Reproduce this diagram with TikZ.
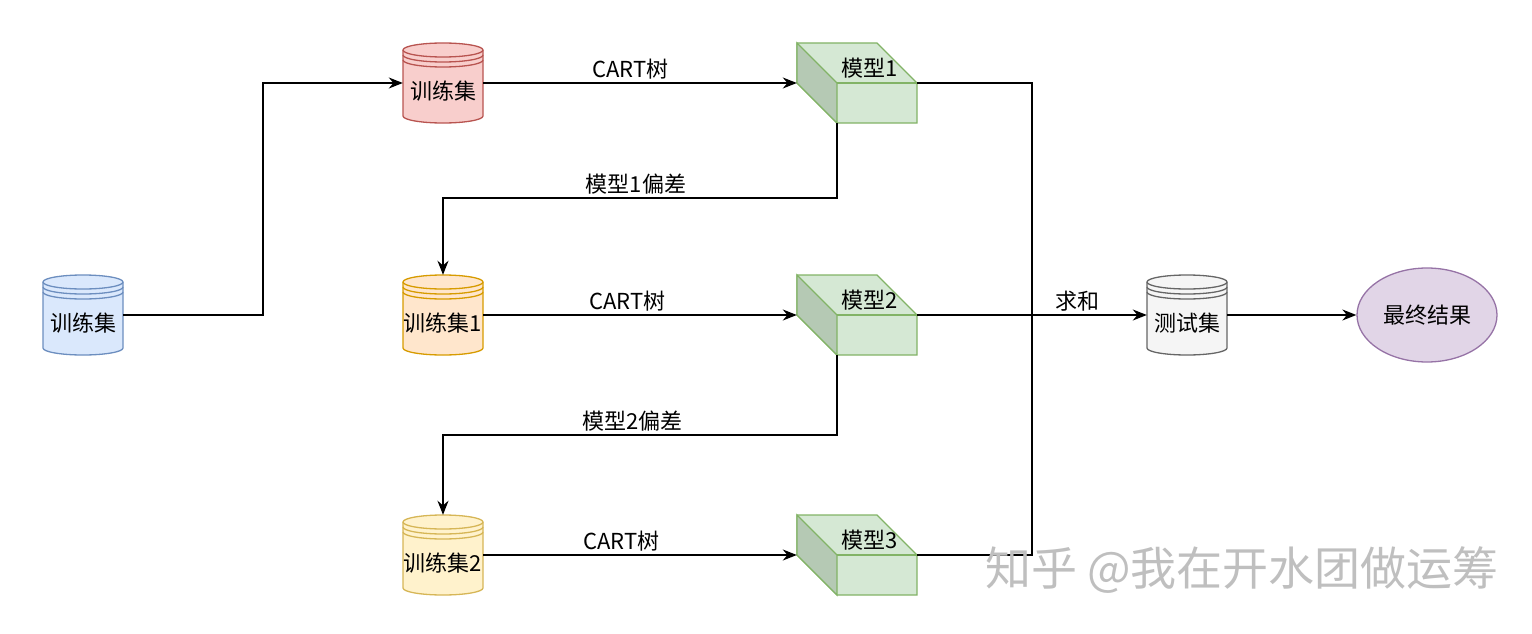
\documentclass[tikz,border=0pt]{standalone}
\usepackage{fontspec}
\setmainfont{Noto Sans CJK SC}
\usetikzlibrary{arrows.meta,shapes.geometric}
\definecolor{bF}{HTML}{DAE8FC}\definecolor{bD}{HTML}{6C8EBF}
\definecolor{rF}{HTML}{F8CECC}\definecolor{rD}{HTML}{B85450}
\definecolor{oF}{HTML}{FFE6CC}\definecolor{oD}{HTML}{D79B00}
\definecolor{yF}{HTML}{FFF2CC}\definecolor{yD}{HTML}{D6B656}
\definecolor{gF}{HTML}{D5E8D4}\definecolor{gD}{HTML}{82B366}
\definecolor{gS}{HTML}{B5C9B4}
\definecolor{wF}{HTML}{F5F5F5}\definecolor{wD}{HTML}{666666}
\definecolor{pF}{HTML}{E1D5E7}\definecolor{pD}{HTML}{9673A6}
\newcommand\mydb[6]{%
 \path[fill=#4,draw=#5,line width=1.3pt] (#2-40,#3-33) -- (#2-40,#3+33) arc[start angle=180,end angle=0,x radius=40,y radius=7] -- (#2+40,#3-33) arc[start angle=0,end angle=-180,x radius=40,y radius=7] -- cycle;
 \draw[#5,line width=1.3pt] (#2-40,#3-33) arc[start angle=180,end angle=0,x radius=40,y radius=7];
 \draw[#5,line width=1.3pt] (#2-40,#3-28) arc[start angle=180,end angle=0,x radius=40,y radius=7];
 \draw[#5,line width=1.3pt] (#2-40,#3-23) arc[start angle=180,end angle=0,x radius=40,y radius=7];
 \node[minimum width=80pt,minimum height=80pt,inner sep=0] (#1) at (#2,#3) {};
 \node[txt] at (#2,#3+8) {#6};}
\newcommand\mycube[4]{%
 \path[fill=gF,draw=gD,line width=1.3pt] (#2-60,#3-40) -- (#2+20,#3-40) -- (#2+60,#3) -- (#2+60,#3+40) -- (#2-20,#3+40) -- (#2-60,#3) -- cycle;
 \path[fill=gS,draw=gD,line width=1.3pt] (#2-60,#3-40) -- (#2-20,#3) -- (#2-20,#3+40) -- (#2-60,#3) -- cycle;
 \draw[gD,line width=1.3pt] (#2-20,#3) -- (#2+60,#3);
 \node[minimum width=120pt,minimum height=80pt,inner sep=0] (#1) at (#2,#3) {};
 \node[txt] at (#2+13,#3-15) {#4};}
\begin{document}
\begin{tikzpicture}[x=1pt,y=-1pt,
 txt/.style={font=\fontsize{22}{24}\selectfont},
 ar/.style={line width=1.6pt,-{Stealth[length=14pt,width=11pt]}},
 ln/.style={line width=1.6pt}]
\useasboundingbox (0,0) rectangle (1532,634);
\mydb{b}{83}{315}{bF}{bD}{训练集}
\mydb{r}{443}{83}{rF}{rD}{训练集}
\mydb{o}{443}{315}{oF}{oD}{训练集1}
\mydb{y}{443}{555}{yF}{yD}{训练集2}
\mydb{t}{1187}{315}{wF}{wD}{测试集}
\mycube{m1}{857}{83}{模型1}
\mycube{m2}{857}{315}{模型2}
\mycube{m3}{857}{555}{模型3}
\node[ellipse,draw=pD,fill=pF,line width=1.3pt,minimum width=140pt,minimum height=94pt,inner sep=0,txt] (e) at (1427,315) {最终结果};
\coordinate (j) at (1032,315);
\draw[ar] (b.east) -- (263,315) |- (r.west);
\draw[ar] (r.east) -- node[above,txt,pos=0.47]{CART树} (m1.west);
\draw[ar] (o.east) -- node[above,txt,pos=0.46]{CART树} (m2.west);
\draw[ar] (y.east) -- node[above,txt,pos=0.44]{CART树} (m3.west);
\draw[ar] (837,123) -- (837,198) -- node[above,txt,pos=0.51]{模型1偏差} (443,198) -- (o.north);
\draw[ar] (837,355) -- (837,435) -- node[above,txt,pos=0.52]{模型2偏差} (443,435) -- (y.north);
\draw[ln] (m1.east) -| (j);
\draw[ln] (m3.east) -| (j);
\draw[ar] (m2.east) -- (j) -- node[above,txt,pos=0.4]{求和} (t.west);
\draw[ar] (t.east) -- (e.west);
\node[text=gray!50,font=\fontsize{46}{50}\selectfont,anchor=center] (w) at (1242,570) {知乎 @我在开水团做运筹};
\end{tikzpicture}
\end{document}
